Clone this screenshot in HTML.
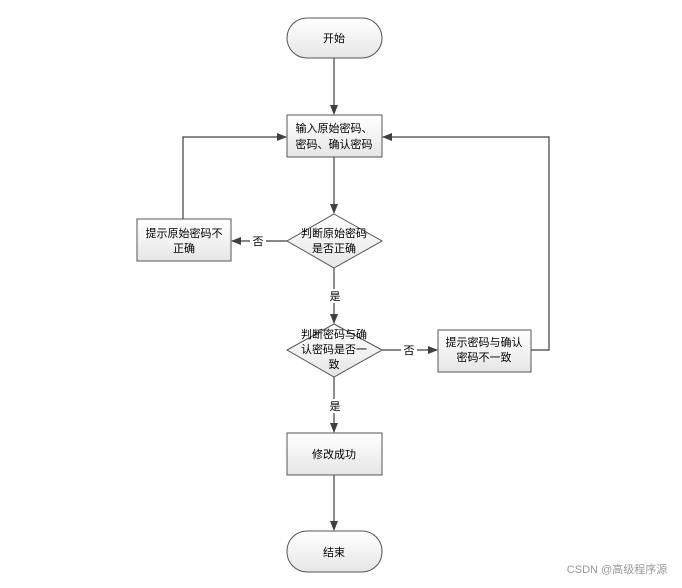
<!DOCTYPE html>
<html><head><meta charset="utf-8"><style>
body{margin:0;background:#fff;width:682px;height:583px;overflow:hidden}
svg text{font-family:"Liberation Sans","Noto Sans CJK SC",sans-serif;font-size:11px;fill:#000;text-anchor:middle}
</style></head><body>
<svg width="682" height="583" viewBox="0 0 682 583">
<defs>
<linearGradient id="g" x1="0" y1="0" x2="0" y2="1"><stop offset="0" stop-color="#ffffff"/><stop offset="1" stop-color="#e6e6e6"/></linearGradient>
<marker id="a" markerWidth="10" markerHeight="10" refX="9" refY="5" orient="auto" markerUnits="userSpaceOnUse"><path d="M0,1 L10,5 L0,9 z" fill="#404040"/></marker>
</defs>
<g stroke="#404040" stroke-width="1.2" fill="none">
<line x1="334" y1="58" x2="334" y2="114" marker-end="url(#a)"/>
<line x1="334" y1="157" x2="334" y2="213" marker-end="url(#a)"/>
<line x1="287" y1="241" x2="232" y2="241" marker-end="url(#a)"/>
<polyline points="183,219 183,137 286,137" marker-end="url(#a)"/>
<line x1="334" y1="268" x2="334" y2="323" marker-end="url(#a)"/>
<line x1="382" y1="350" x2="437" y2="350" marker-end="url(#a)"/>
<polyline points="531,350 549,350 549,137 383,137" marker-end="url(#a)"/>
<line x1="334" y1="377" x2="334" y2="432" marker-end="url(#a)"/>
<line x1="334" y1="475" x2="334" y2="530" marker-end="url(#a)"/>
</g>
<g fill="#fff"><rect x="250" y="234" width="16" height="14"/><rect x="327" y="289" width="16" height="14"/><rect x="401" y="343" width="16" height="14"/><rect x="327" y="399" width="16" height="14"/></g>
<g stroke="#555" stroke-width="1" fill="url(#g)">
<rect x="287" y="18" width="95" height="40" rx="20"/>
<rect x="287" y="115" width="95" height="42"/>
<polygon points="334,214 382,241 334,268 287,241"/>
<rect x="137" y="219" width="94" height="42"/>
<polygon points="334,324 382,350 334,377 287,350"/>
<rect x="438" y="330" width="93" height="42"/>
<rect x="287" y="433" width="95" height="42"/>
<rect x="287" y="531" width="95" height="41" rx="20"/>
</g>
<text x="334" y="42">开始</text>
<text x="334" y="132">输入原始密码、</text>
<text x="334" y="148">密码、确认密码</text>
<text x="334" y="237">判断原始密码</text>
<text x="334" y="252">是否正确</text>
<text x="184" y="237">提示原始密码不</text>
<text x="184" y="252">正确</text>
<text x="258" y="245">否</text>
<text x="335" y="300">是</text>
<text x="334" y="338">判断密码与确</text>
<text x="334" y="353">认密码是否一</text>
<text x="334" y="368">致</text>
<text x="484" y="346">提示密码与确认</text>
<text x="484" y="361">密码不一致</text>
<text x="409" y="354">否</text>
<text x="335" y="410">是</text>
<text x="334" y="458">修改成功</text>
<text x="334" y="556">结束</text>
<text x="617" y="573" style="fill:#999;font-size:11px">CSDN @高级程序源</text>
</svg>
</body></html>
